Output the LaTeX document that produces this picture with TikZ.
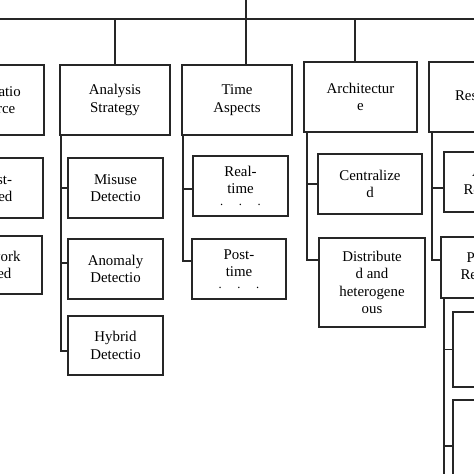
\documentclass[tikz,border=0pt]{standalone}
\usepackage{fontspec}
\setmainfont{Liberation Serif}
\usetikzlibrary{calc}

\tikzset{
  box/.style={draw=black!85, line width=1.3pt, align=center, inner sep=0pt,
    font=\fontsize{11.9pt}{14pt}\selectfont},
  wh/.style 2 args={minimum width=#1*0.8pt, minimum height=#2*0.8pt},
  link/.style={draw=black!85, line width=1.3pt}
}
\newcommand{\cutdots}{\\[-4.6pt]{\fontsize{10pt}{10pt}\selectfont .\hspace{12.5pt}.\hspace{12.5pt}.}}

\begin{document}
\begin{tikzpicture}[x=0.8pt, y=-0.8pt]

\useasboundingbox (0,0) rectangle (474,474);
\clip (0,0) rectangle (474,474);

%Coordinates
\coordinate (busL) at (0,19);
\coordinate (busR) at (474,19);
\coordinate (root) at (246,0);

\coordinate (s2) at (61,0);
\coordinate (s3) at (183,0);
\coordinate (s4) at (307,0);
\coordinate (s5) at (432,0);
\coordinate (s6) at (444,474);

% Nodes, first level
\node[box, wh={110}{70}] (src)  at (-11,100)   {Informatio\\n Source};
\node[box, wh={110}{70}] (ana)  at (115,100)   {Analysis\\Strategy};
\node[box, wh={110}{70}] (time) at (237,100)   {Time\\Aspects};
\node[box, wh={113}{70}] (arch) at (360.5,97)  {Architectur\\e};
\node[box, wh={109}{70}] (resp) at (483.5,97)  {Response};

% Nodes, second level
\node[box, wh={95}{60}]  (host)    at (-4.5,188)  {Host-\\based};
\node[box, wh={95}{58}]  (net)     at (-5.5,265)  {Network\\based};

\node[box, wh={95}{60}]  (misuse)  at (115.5,188) {Misuse\\Detectio};
\node[box, wh={95}{60}]  (anomaly) at (115.5,269) {Anomaly\\Detectio};
\node[box, wh={95}{59}]  (hybrid)  at (115.5,345.5) {Hybrid\\Detectio};

\node[box, wh={95}{60}]  (real)    at (240.5,186) {Real-\\time\cutdots};
\node[box, wh={94}{60}]  (post)    at (239,269)   {Post-\\time\cutdots};

\node[box, wh={104}{60}] (central) at (370,184)   {Centralize\\d};
\node[box, wh={106}{89}] (distrib) at (372,282.5) {Distribute\\d and\\heterogene\\ous};

\node[box, wh={96}{60}]  (active)  at (492,182)   {Active\\Response};
\node[box, wh={96}{61}]  (passive) at (489,267.5) {Passive\\Response};
\node[box, wh={96}{75}]  (sub1)    at (501,349.5) {};
\node[box, wh={96}{80}]  (sub2)    at (501,440)   {};

% Paths
\draw[link] (busL) -- (busR);
\draw[link] (root) -- (root |- time.north);
\draw[link] (ana.north) -- (ana.north |- busL);
\draw[link] ([xshift=-4.4pt]arch.north) -- ([xshift=-4.4pt]arch.north |- busL);

% Analysis Strategy
\draw[link] (s2 |- ana.south) |- ([yshift=-4.4pt]hybrid.west);
\draw[link] (misuse.west) -- (misuse.west -| s2);
\draw[link] ([yshift=4.8pt]anomaly.west) -- ([yshift=4.8pt]anomaly.west -| s2);

% Time Aspects
\draw[link] (s3 |- time.south) |- ([yshift=6.4pt]post.west);
\draw[link] ([yshift=-2.4pt]real.west) -- ([yshift=-2.4pt]real.west -| s3);

% Architecture
\draw[link] (s4 |- arch.south) |- ([yshift=18pt]distrib.west);
\draw[link] (central.west) -- (central.west -| s4);

% Response
\draw[link] (s5 |- resp.south) |- ([yshift=6pt]passive.west);
\draw[link] ([yshift=-4.8pt]active.west) -- ([yshift=-4.8pt]active.west -| s5);
\draw[link] (s6 |- passive.south) -- (s6);
\draw[link] (sub1.west) -- (sub1.west -| s6);
\draw[link] ([yshift=-4.8pt]sub2.west) -- ([yshift=-4.8pt]sub2.west -| s6);

\end{tikzpicture}
\end{document}
